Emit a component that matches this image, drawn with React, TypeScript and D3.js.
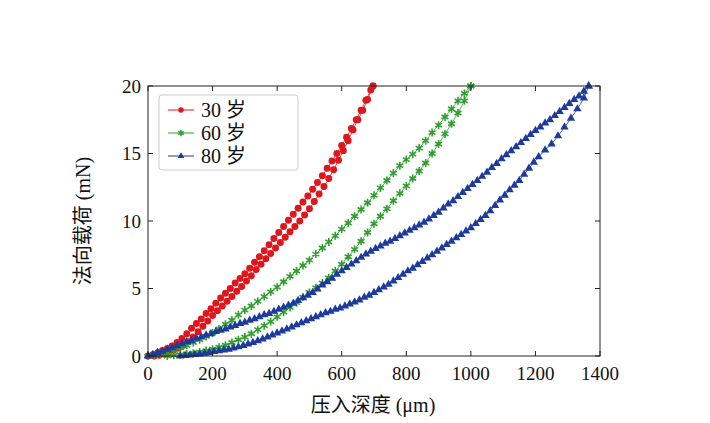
import React from 'react';
import * as d3 from 'd3';

// indentation curves: [depth µm, load mN], two branches per age group
const age30Upper: [number, number][] = [
  [0, 0], [15, 0.1], [30, 0.25], [45, 0.4], [60, 0.55], [75, 0.75], [90, 1.0], [105, 1.3],
  [120, 1.65], [135, 2.05], [150, 2.4], [165, 2.75], [180, 3.15], [195, 3.5], [210, 3.9],
  [225, 4.3], [240, 4.65], [255, 5.0], [270, 5.4], [285, 5.75], [300, 6.1], [315, 6.5],
  [330, 6.95], [345, 7.35], [360, 7.8], [375, 8.25], [390, 8.7], [405, 9.15], [420, 9.6],
  [435, 10.05], [450, 10.5], [465, 10.95], [480, 11.4], [495, 11.85], [510, 12.35],
  [525, 12.85], [540, 13.35], [555, 13.9], [570, 14.45], [585, 15.0], [600, 15.6],
  [615, 16.2], [630, 16.85], [645, 17.5], [660, 18.2], [675, 18.95], [690, 19.7], [697, 20],
];
const age30Lower: [number, number][] = [
  [20, 0], [35, 0.05], [50, 0.15], [65, 0.3], [80, 0.45], [95, 0.6], [110, 0.8], [125, 1.05],
  [140, 1.4], [155, 1.8], [170, 2.2], [185, 2.6], [200, 3.0], [215, 3.35], [230, 3.7],
  [245, 4.05], [260, 4.4], [275, 4.8], [290, 5.15], [305, 5.55], [320, 5.95], [335, 6.4],
  [350, 6.8], [365, 7.2], [380, 7.6], [395, 8.0], [410, 8.4], [425, 8.8], [440, 9.2],
  [455, 9.6], [470, 10.0], [485, 10.45], [500, 10.9], [515, 11.45], [530, 12.0],
  [545, 12.55], [560, 13.15], [575, 13.8], [590, 14.5], [605, 15.2], [620, 15.95],
  [635, 16.75], [650, 17.5], [665, 18.2], [680, 19.0], [697, 20],
];
const age60Upper: [number, number][] = [
  [0, 0], [20, 0.05], [40, 0.15], [60, 0.3], [80, 0.45], [100, 0.6], [120, 0.8], [140, 1.0],
  [160, 1.2], [180, 1.45], [200, 1.7], [220, 2.0], [240, 2.35], [260, 2.65], [280, 3.05],
  [300, 3.4], [320, 3.7], [340, 4.05], [360, 4.4], [380, 4.75], [400, 5.1], [420, 5.5],
  [440, 5.9], [460, 6.3], [480, 6.7], [500, 7.1], [520, 7.55], [540, 8.0], [560, 8.45],
  [580, 8.9], [600, 9.4], [620, 9.85], [640, 10.35], [660, 10.85], [680, 11.35], [700, 11.9],
  [720, 12.45], [740, 13.0], [760, 13.55], [780, 14.1], [800, 14.55], [820, 14.95],
  [840, 15.4], [860, 15.95], [880, 16.55], [900, 17.1], [920, 17.7], [940, 18.3],
  [960, 18.9], [980, 19.45], [1000, 20],
];
const age60Lower: [number, number][] = [
  [60, 0], [80, 0.05], [100, 0.1], [120, 0.15], [140, 0.2], [160, 0.3], [180, 0.4], [200, 0.5],
  [220, 0.65], [240, 0.8], [260, 1.0], [280, 1.2], [300, 1.4], [320, 1.65], [340, 1.95],
  [360, 2.25], [380, 2.55], [400, 2.9], [420, 3.25], [440, 3.6], [460, 3.95], [480, 4.35],
  [500, 4.7], [520, 5.05], [540, 5.4], [560, 5.8], [580, 6.3], [600, 6.8], [620, 7.35],
  [640, 7.9], [660, 8.5], [680, 9.15], [700, 9.8], [720, 10.35], [740, 10.9], [760, 11.5],
  [780, 12.05], [800, 12.6], [820, 13.15], [840, 13.7], [860, 14.3], [880, 15.0],
  [900, 15.7], [920, 16.45], [940, 17.2], [960, 18.0], [980, 18.9], [1000, 20],
];
const age80Upper: [number, number][] = [
  [0, 0], [15, 0.1], [30, 0.25], [45, 0.35], [60, 0.5], [75, 0.6], [90, 0.75], [105, 0.9],
  [120, 1.05], [135, 1.15], [150, 1.3], [165, 1.4], [180, 1.55], [195, 1.65], [210, 1.8],
  [225, 1.9], [240, 2.0], [255, 2.15], [270, 2.25], [285, 2.4], [300, 2.5], [315, 2.65],
  [330, 2.75], [345, 2.9], [360, 3.05], [375, 3.15], [390, 3.3], [405, 3.45], [420, 3.6],
  [435, 3.75], [450, 3.9], [465, 4.1], [480, 4.3], [495, 4.5], [510, 4.7], [525, 4.95],
  [540, 5.25], [555, 5.5], [570, 5.75], [585, 6.05], [600, 6.3], [615, 6.55], [630, 6.8],
  [645, 7.05], [660, 7.3], [675, 7.55], [690, 7.75], [705, 7.95], [720, 8.15], [735, 8.35],
  [750, 8.5], [765, 8.7], [780, 8.9], [795, 9.1], [810, 9.3], [825, 9.5], [840, 9.7],
  [855, 9.9], [870, 10.15], [885, 10.4], [900, 10.65], [915, 10.95], [930, 11.25],
  [945, 11.5], [960, 11.8], [975, 12.1], [990, 12.4], [1005, 12.7], [1020, 13.0],
  [1035, 13.3], [1050, 13.6], [1065, 13.95], [1080, 14.25], [1095, 14.6], [1110, 14.9],
  [1125, 15.2], [1140, 15.5], [1155, 15.8], [1170, 16.1], [1185, 16.4], [1200, 16.7],
  [1215, 16.95], [1230, 17.25], [1245, 17.5], [1260, 17.8], [1275, 18.1], [1290, 18.4],
  [1305, 18.7], [1320, 19.0], [1335, 19.25], [1350, 19.6], [1365, 20],
];
const age80Lower: [number, number][] = [
  [100, 0], [115, 0.03], [130, 0.06], [145, 0.1], [160, 0.14], [175, 0.2], [190, 0.26],
  [205, 0.32], [220, 0.38], [235, 0.44], [250, 0.5], [265, 0.58], [280, 0.67], [295, 0.77],
  [310, 0.88], [325, 1.0], [340, 1.12], [355, 1.25], [370, 1.4], [385, 1.55], [400, 1.7],
  [415, 1.85], [430, 2.0], [445, 2.15], [460, 2.3], [475, 2.45], [490, 2.6], [505, 2.75],
  [520, 2.9], [535, 3.05], [550, 3.2], [565, 3.3], [580, 3.45], [595, 3.55], [610, 3.7],
  [625, 3.85], [640, 4.0], [655, 4.15], [670, 4.35], [685, 4.5], [700, 4.7], [715, 4.9],
  [730, 5.1], [745, 5.3], [760, 5.55], [775, 5.8], [790, 6.05], [805, 6.3], [820, 6.5],
  [835, 6.75], [850, 7.0], [865, 7.25], [880, 7.5], [895, 7.75], [910, 8.0], [925, 8.25],
  [940, 8.5], [955, 8.75], [970, 9.0], [985, 9.25], [1000, 9.5], [1015, 9.8], [1030, 10.1],
  [1045, 10.4], [1060, 10.75], [1075, 11.15], [1090, 11.55], [1105, 11.9], [1120, 12.3],
  [1135, 12.65], [1150, 13.0], [1165, 13.45], [1180, 13.9], [1195, 14.35], [1210, 14.75],
  [1230, 15.25], [1250, 15.7], [1270, 16.3], [1290, 16.95], [1310, 17.6], [1330, 18.3],
  [1350, 19.1], [1365, 20],
];

const xTicks = [0, 200, 400, 600, 800, 1000, 1200, 1400];
const yTicks = [0, 5, 10, 15, 20];
const legendLabels = ['30 岁', '60 岁', '80 岁'];

const W = 710;
const H = 423;
const margin = { top: 86, right: 110, bottom: 67, left: 148 };
const serif = '"Liberation Serif", "Times New Roman", "Noto Sans CJK SC", serif';

const x = d3.scaleLinear().domain([0, 1400]).range([margin.left, W - margin.right]);
const y = d3.scaleLinear().domain([0, 20]).range([H - margin.bottom, margin.top]);

const line = d3.line<[number, number]>().x(d => x(d[0])).y(d => y(d[1]));

const circle = d3.symbol().type(d3.symbolCircle).size(38)()!;
const triangle = d3.symbol().type(d3.symbolTriangle).size(30)()!;

// six-armed asterisk
const asterisk = (r: number) => {
  const p = d3.path();
  for (let i = 0; i < 3; i++) {
    const a = (Math.PI / 3) * i + Math.PI / 2;
    p.moveTo(r * Math.cos(a), r * Math.sin(a));
    p.lineTo(-r * Math.cos(a), -r * Math.sin(a));
  }
  return p.toString();
};

const series = [
  { name: legendLabels[0], color: '#e0161d', branches: [age30Upper, age30Lower], kind: 'circle' },
  { name: legendLabels[1], color: '#2e9e2e', branches: [age60Upper, age60Lower], kind: 'star' },
  { name: legendLabels[2], color: '#1c3b9c', branches: [age80Upper, age80Lower], kind: 'tri' },
];

const Marker = ({ kind, color, scale = 1 }: { kind: string; color: string; scale?: number }) => {
  if (kind === 'circle') return <path d={circle} fill={color} transform={`scale(${scale})`} />;
  if (kind === 'tri') return <path d={triangle} fill={color} transform={`scale(${scale})`} />;
  return <path d={asterisk(4 * scale)} stroke={color} strokeWidth={1.6} fill="none" />;
};

export default function App() {
  const x0 = margin.left;
  const x1 = W - margin.right;
  const y0 = H - margin.bottom;
  const y1 = margin.top;
  const tick = 5;

  return (
    <svg width={W} height={H} style={{ position: 'absolute', left: 0, top: 0, background: '#fff' }}>
      <rect width={W} height={H} fill="#fff" />

      {/* curves */}
      {series.map(s => (
        <g key={s.name}>
          {s.branches.map((b, bi) => (
            <g key={bi}>
              <path d={line(b)!} fill="none" stroke={s.color} strokeWidth={0.8} />
              {b.map((d, i) => (
                <g key={i} transform={`translate(${x(d[0])},${y(d[1])})`}>
                  <Marker kind={s.kind} color={s.color} />
                </g>
              ))}
            </g>
          ))}
        </g>
      ))}

      {/* frame and ticks */}
      <rect x={x0} y={y1} width={x1 - x0} height={y0 - y1} fill="none" stroke="#222" strokeWidth={1} />
      {xTicks.map(t => (
        <g key={`x${t}`}>
          <line x1={x(t)} x2={x(t)} y1={y0} y2={y0 - tick} stroke="#222" />
          <line x1={x(t)} x2={x(t)} y1={y1} y2={y1 + tick} stroke="#222" />
          <text x={x(t)} y={y0 + 24} textAnchor="middle" fontFamily={serif} fontSize={19} fill="#111">
            {t}
          </text>
        </g>
      ))}
      {yTicks.map(t => (
        <g key={`y${t}`}>
          <line x1={x0} x2={x0 + tick} y1={y(t)} y2={y(t)} stroke="#222" />
          <line x1={x1} x2={x1 - tick} y1={y(t)} y2={y(t)} stroke="#222" />
          <text x={x0 - 7} y={y(t)} dy="0.35em" textAnchor="end" fontFamily={serif} fontSize={19} fill="#111">
            {t}
          </text>
        </g>
      ))}

      {/* axis titles */}
      <text x={373} y={412} textAnchor="middle" fontFamily={serif} fontSize={20} fill="#111">
        压入深度 (μm)
      </text>
      <text
        transform={`translate(90,${(y0 + y1) / 2}) rotate(-90)`}
        textAnchor="middle"
        fontFamily={serif}
        fontSize={20}
        fill="#111"
      >
        法向载荷 (mN)
      </text>

      {/* legend */}
      <rect x={159} y={95} width={139} height={75} rx={3} fill="#fff" stroke="#cccccc" />
      {series.map((s, i) => {
        const ly = 110 + i * 23;
        return (
          <g key={`lg${i}`}>
            <line x1={168} x2={194} y1={ly} y2={ly} stroke={s.color} strokeWidth={1} />
            <g transform={`translate(181,${ly})`}>
              <Marker kind={s.kind} color={s.color} scale={0.8} />
            </g>
            <text x={201} y={ly} dy="0.35em" fontFamily={serif} fontSize={20} fill="#111">
              {s.name}
            </text>
          </g>
        );
      })}
    </svg>
  );
}
